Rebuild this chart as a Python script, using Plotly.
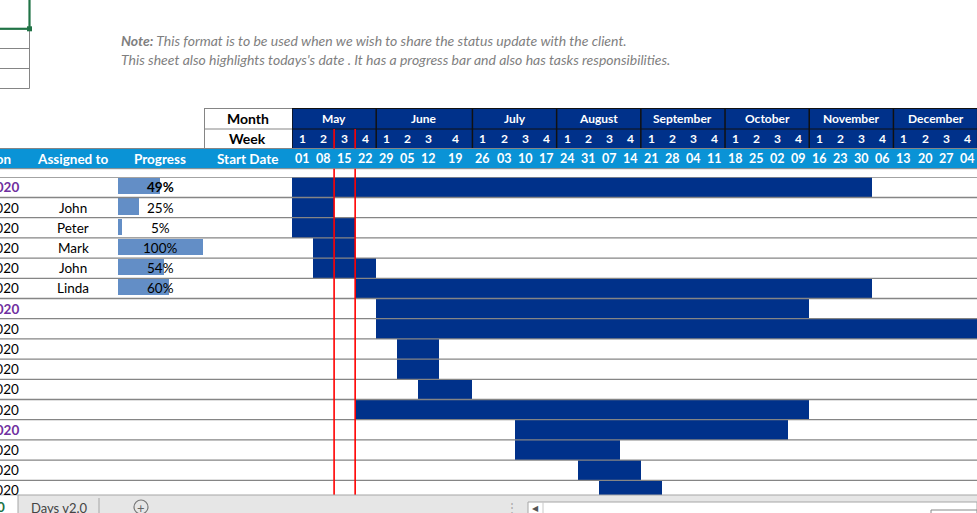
import plotly.graph_objects as go
import numpy as np

# ---------------- data ----------------
months = ["May", "June", "July", "August", "September", "October", "November", "December"]
week_labels = ["1", "2", "3", "4"] * 8
start_dates = ["01", "08", "15", "22", "29", "05", "12", "19", "26", "03", "10", "17",
               "24", "31", "07", "14", "21", "28", "04", "11", "18", "25", "02", "09",
               "16", "23", "30", "06", "13", "20", "27", "04"]
task_dates = ["11/20/2020", "05/14/2020", "05/21/2020", "05/21/2020", "05/28/2020", "11/20/2020",
              "10/15/2020", "12/31/2020", "06/18/2020", "06/18/2020", "06/25/2020", "10/15/2020",
              "10/08/2020", "08/13/2020", "08/20/2020", "08/27/2020"]
group_rows = [0, 6, 12]
assigned = ["", "John", "Peter", "Mark", "John", "Linda"]
progress = [49, 25, 5, 100, 54, 60]
gantt_start = [0, 0, 0, 1, 1, 3, 4, 4, 5, 5, 6, 3, 10, 10, 13, 14]   # first week column
gantt_end = [26, 1, 2, 2, 3, 26, 23, 31, 6, 6, 7, 23, 22, 14, 15, 16]  # last week column (inclusive)
today_col = 2

# ---------------- layout helpers ----------------
W, H = 977, 513
def px(x): return x / W
def py(y): return 1 - y / H

col_w = np.ones(32)
col_w[7] = 33 / 21.0            # the wider "19" column
edges = np.concatenate([[0], np.cumsum(col_w)])
centers = (edges[:-1] + edges[1:]) / 2
UNIT = 21.05
GX0 = 292
ROW0, ROWH, YBOT = 177.3, 20.2, 495
n_rows = len(gantt_start)
yr = (YBOT - ROW0) / ROWH

FONT = "Lato"
DARK = "#00318A"
LIGHT = "#0A93D6"
GRID = "#858585"

fig = go.Figure()

# Gantt bars
fig.add_trace(go.Bar(
    orientation="h",
    y=[i + 0.5 for i in range(n_rows)],
    base=[edges[s] for s in gantt_start],
    x=[edges[e + 1] - edges[s] for s, e in zip(gantt_start, gantt_end)],
    width=1.0, marker=dict(color=DARK, line=dict(width=0)),
    xaxis="x", yaxis="y", hoverinfo="skip", showlegend=False))

# Progress bars
fig.add_trace(go.Bar(
    orientation="h",
    y=[i + 0.46 for i in range(len(progress))],
    x=progress, base=0, width=0.8,
    marker=dict(color="#638EC6", line=dict(width=0)),
    xaxis="x2", yaxis="y", hoverinfo="skip", showlegend=False))

shapes = []
ann = []

def rect(x0, y0, x1, y1, fill, line=None, xref="paper", layer="below"):
    shapes.append(dict(type="rect", xref=xref, yref="paper", x0=x0, x1=x1, y0=py(y0), y1=py(y1),
                       fillcolor=fill, line=dict(width=0) if line is None else line, layer=layer))

def hline(x0, x1, y, color, w=1, xref="paper", yref="paper"):
    shapes.append(dict(type="line", xref=xref, yref=yref, x0=x0, x1=x1,
                       y0=py(y) if yref == "paper" else y, y1=py(y) if yref == "paper" else y,
                       line=dict(color=color, width=w), layer="above"))

def vline(x, y0, y1, color, w=1, xref="paper"):
    shapes.append(dict(type="line", xref=xref, yref="paper", x0=x, x1=x, y0=py(y0), y1=py(y1),
                       line=dict(color=color, width=w), layer="above"))

def text(x, y, s, size=13, color="black", bold=False, italic=False, xanchor="center", xref="paper", yref="paper"):
    t = s
    if bold: t = "<b>" + t + "</b>"
    if italic: t = "<i>" + t + "</i>"
    ann.append(dict(x=x, y=y, xref=xref, yref=yref, text=t, showarrow=False, xanchor=xanchor,
                    yanchor="middle", font=dict(family=FONT, size=size, color=color)))

# header rows
rect(px(GX0), 108, 1, 149, DARK)
rect(0, 148.5, 1, 168.5, LIGHT)
hline(px(GX0), 1, 108.5, "#111", 1.2)
hline(px(GX0), 1, 129, "#111", 1.2)
for m in range(len(months) + 1):
    if 4 * m <= 32:
        vline(edges[min(4 * m, 32)], 108, 149, "#111", 1.5, xref="x")
# month / week label cells
hline(px(204), px(GX0), 108.5, GRID)
hline(px(204), px(GX0), 129, GRID)
vline(px(204.5), 108, 149, GRID)
hline(0, 1, 148.5, GRID)
hline(0, 1, 168.7, GRID)
text(px(248), py(118.5), "Month", 14, "black", bold=True)
text(px(248), py(139), "Week", 14, "black", bold=True)

for m, name in enumerate(months):
    text((edges[4 * m] + edges[4 * m + 4]) / 2, py(118.5), name, 12, "white", bold=True, xref="x")
for i in range(32):
    text(centers[i], py(139), week_labels[i], 12, "white", bold=True, xref="x")
    text(centers[i], py(159), start_dates[i], 12.5, "white", bold=True, xref="x")

text(px(13), py(159), "Completion", 13.5, "white", bold=True, xanchor="right")
text(px(73), py(159), "Assigned to", 13.5, "white", bold=True)
text(px(160), py(159), "Progress", 13.5, "white", bold=True)
text(px(248), py(159), "Start Date", 13.5, "white", bold=True)

# row lines
for k in range(n_rows):
    hline(0, 1, k, GRID, 1.3, yref="y")

# row texts
for i in range(n_rows):
    grp = i in group_rows
    text(px(20.5), i + 0.5, task_dates[i], 13.5, "#7030A0" if grp else "black",
         bold=grp, xanchor="right", yref="y")
for i, name in enumerate(assigned):
    if name:
        text(px(73), i + 0.5, name, 13.5, "black", yref="y")
for i, p in enumerate(progress):
    text(px(160), i + 0.5, f"{p}%", 13.5, "black", bold=(i in group_rows), yref="y")

# today markers
for c in (today_col, today_col + 1):
    vline(edges[c], 129, 148.5, "red", 1.6, xref="x")
    vline(edges[c], 168.7, YBOT, "red", 1.6, xref="x")

# note
text(px(119), py(40), "<b>Note:</b> This format is to be used when we wish to share the status update with the client.",
     14, "#7F7F7F", italic=True, xanchor="left")
text(px(119), py(59.5), "This sheet also highlights todays's date . It has a progress bar and also has tasks responsibilities.",
     14, "#7F7F7F", italic=True, xanchor="left")

# excel cell selection top-left
for y in (48.5, 68.5, 88.5):
    hline(0, px(29.5), y, GRID)
vline(px(29.5), 29, 88.5, GRID)
vline(px(29.5), 0, 29, "#217346", 2.2)
hline(0, px(29.5), 28.8, "#217346", 2.2)
rect(px(27), 26.3, px(32), 31.3, "#217346", layer="above")

# sheet tab bar
rect(0, YBOT, 1, H, "#E6E6E6", layer="above")
hline(0, 1, YBOT, "#A6A6A6", 1.2)
rect(0, YBOT + 0.6, px(18), H, "white", layer="above")
vline(px(18), YBOT, H, "#A6A6A6")
vline(px(99), YBOT + 3, H, "#A6A6A6")
text(px(6.5), py(507), "<b>2.0</b>", 13.5, "#217346", xanchor="right")
text(px(59), py(507.5), "Days v2.0", 13, "#444444")
shapes.append(dict(type="circle", xref="paper", yref="paper", x0=px(134), x1=px(148), y0=py(500), y1=py(514),
                   line=dict(color="#777", width=1.2), layer="above"))
text(px(141), py(507.5), "+", 13, "#666")
text(px(512), py(507), "⋮", 12, "#AAAAAA")
rect(px(528), 502, 1, H + 2, "white", line=dict(color="#A6A6A6", width=1), layer="above")
vline(px(543), 502, H, "#C8C8C8")
text(px(535), py(508), "◀", 8, "#555")
rect(px(931), 510, 1, H + 3, "white", line=dict(color="#888", width=1), layer="above")

fig.update_layout(
    width=W, height=H, margin=dict(l=0, r=0, t=0, b=0),
    paper_bgcolor="white", plot_bgcolor="white",
    barmode="overlay", bargap=0,
    xaxis=dict(domain=[px(GX0), 1], range=[0, (W - GX0) / UNIT], visible=False, fixedrange=True),
    xaxis2=dict(domain=[px(118), px(203)], range=[0, 100], visible=False, anchor="y", fixedrange=True),
    yaxis=dict(domain=[py(YBOT), py(ROW0)], range=[yr, 0], visible=False, fixedrange=True),
    shapes=shapes, annotations=ann, showlegend=False,
)

fig.write_html("out.html", config={"displayModeBar": False},
               post_script="document.body.style.margin='0';document.body.style.overflow='hidden';")
